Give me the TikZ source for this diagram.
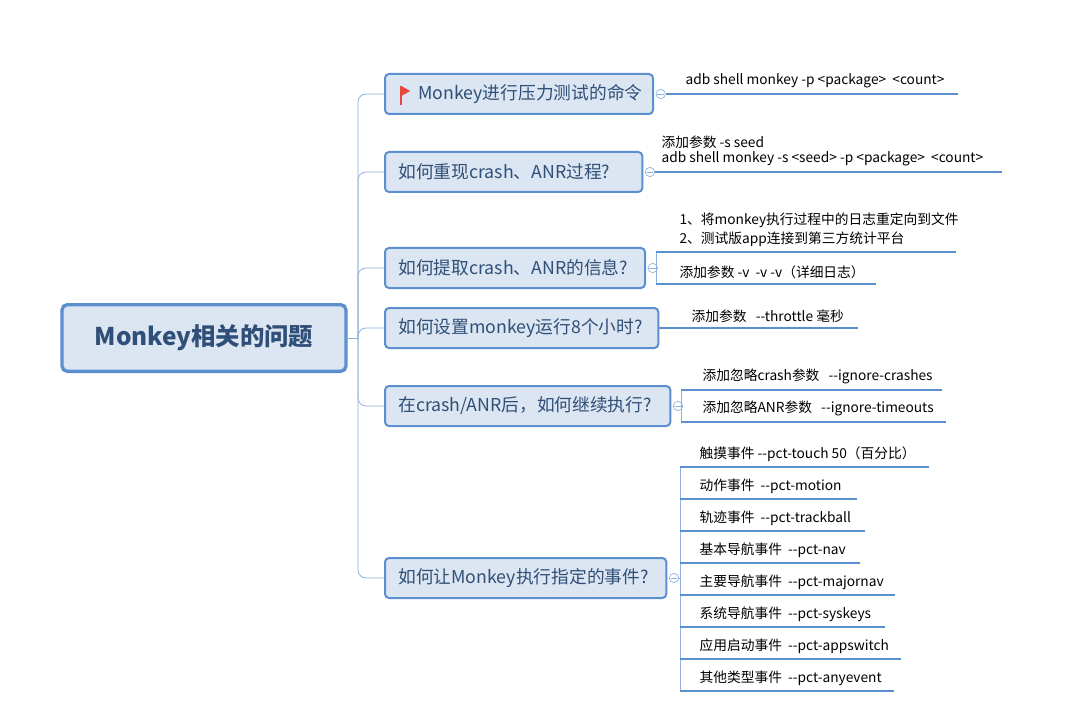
\documentclass[tikz,border=0pt]{standalone}
\usepackage{fontspec}
\setmainfont[Ligatures=TeXOff]{Noto Sans CJK SC}
\definecolor{boxfill}{HTML}{DCE6F2}
\definecolor{boxline}{HTML}{5B8FD0}
\definecolor{titletext}{HTML}{2F4F78}
\definecolor{flagred}{HTML}{E8473F}
\begin{document}
\begin{tikzpicture}[x=0.75pt, y=-0.75pt,
    topicbox/.style={draw=boxline, fill=boxfill, line width=1.5pt, rounded corners=3pt, anchor=west,
        minimum height=30pt, inner xsep=10pt, text width=#1, align=left,
        font=\fontsize{13.3}{15}\selectfont, text=titletext},
    rootbox/.style={draw=boxline, fill=boxfill, line width=2.5pt, rounded corners=4pt,
        minimum width=213pt, minimum height=50pt, font=\fontsize{18.3}{20}\selectfont\bfseries, text=titletext},
    leaf/.style={anchor=south west, inner sep=1pt, font=\fontsize{10.3}{12}\selectfont},
    uline/.style={draw=boxline, line width=2pt},
    trunk/.style={draw=boxline!70, line width=0.6pt, rounded corners=6pt},
    fold/.style={circle, draw=boxline!70, fill=white, line width=0.5pt, inner sep=0pt, minimum size=7pt}]

    \useasboundingbox (0,0) rectangle (1068,713);

    \node[rootbox] (root) at (204,338) {Monkey相关的问题};

    \node[topicbox=181pt] (cmd) at (384,94) {\mbox{\hspace{15pt}Monkey进行压力测试的命令}};
    \fill[flagred] ([xshift=13pt,yshift=6pt]cmd.west) -- ++(9,5) -- ++(-9,5) -- cycle;
    \draw[flagred, line width=1.3pt] ([xshift=13pt,yshift=6pt]cmd.west) -- ([xshift=13pt,yshift=-8pt]cmd.west);
    \node[topicbox=173pt] (redo) at (384,172) {如何重现crash、ANR过程?};
    \node[topicbox=175pt] (info) at (384,268) {如何提取crash、ANR的信息?};
    \node[topicbox=185pt] (hours) at (384,328) {如何设置monkey运行8个小时?};
    \node[topicbox=194pt] (goon) at (384,406) {在crash/ANR后，如何继续执行?};
    \node[topicbox=191pt] (events) at (384,578) {如何让Monkey执行指定的事件?};

    % trunk from root to every topic
    \draw[trunk] (root.east) -- (358,338);
    \foreach \t in {cmd,redo,info,hours,goon,events}
        \draw[trunk] (358,338) |- (\t.west);

    % leaves of the first topics
    \node[fold] (f1) at ([xshift=5pt]cmd.east) {};
    \draw[boxline!70, line width=0.5pt] ([xshift=-2.5pt]f1.center) -- ([xshift=2.5pt]f1.center);
    \coordinate (l1) at (958,94);
    \draw[uline] (f1.east) -- (l1);
    \node[leaf] (t1) at (684,90) {adb shell monkey -p <package>\ \ <count>};

    \node[fold] (f2) at ([xshift=5pt]redo.east) {};
    \draw[boxline!70, line width=0.5pt] ([xshift=-2.5pt]f2.center) -- ([xshift=2.5pt]f2.center);
    \coordinate (l2) at (1002,172);
    \draw[uline] (f2.east) -- (l2);
    \node[leaf] (t2) at (660,168) {adb shell monkey -s <seed>\ -p <package>\ \ <count>};
    \node[leaf] (t2a) at (660,150) {添加参数 -s seed};

    \node[fold] (f3) at ([xshift=5pt]info.east) {};
    \draw[boxline!70, line width=0.5pt] ([xshift=-2.5pt]f3.center) -- ([xshift=2.5pt]f3.center);
    \coordinate (b3) at (656,268);
    \draw[trunk, rounded corners=0pt] (f3.east) -- (b3);
    \draw[trunk, rounded corners=0pt] (656,252) -- (656,284);
    \draw[uline] (656,252) -- (956,252);
    \draw[uline] (656,284) -- (876,284);
    \node[leaf] (t3a) at (678,229) {1、将monkey执行过程中的日志重定向到文件};
    \node[leaf] (t3b) at (678,248) {2、测试版app连接到第三方统计平台};
    \node[leaf] (t3c) at (678,280) {添加参数 -v\ \ -v -v（详细日志）};

    \draw[uline] (hours.east) -- (858,328);
    \node[leaf] (t4) at (690,324) {添加参数\ \ \ --throttle 毫秒};

    \node[fold] (f5) at ([xshift=5pt]goon.east) {};
    \draw[boxline!70, line width=0.5pt] ([xshift=-2.5pt]f5.center) -- ([xshift=2.5pt]f5.center);
    \draw[trunk, rounded corners=0pt] (f5.east) -- (681,406);
    \draw[trunk, rounded corners=0pt] (681,390) -- (681,422);
    \draw[uline] (681,390) -- (942,390);
    \draw[uline] (681,422) -- (946,422);
    \node[leaf] (t5a) at (701,386) {添加忽略crash参数\ \ \ --ignore-crashes};
    \node[leaf] (t5b) at (701,418) {添加忽略ANR参数\ \ \ --ignore-timeouts};

    % event leaves
    \node[fold] (f6) at ([xshift=5pt]events.east) {};
    \draw[boxline!70, line width=0.5pt] ([xshift=-2.5pt]f6.center) -- ([xshift=2.5pt]f6.center);
    \draw[trunk, rounded corners=0pt] (f6.east) -- (680,578);
    \draw[trunk, rounded corners=0pt] (680,467) -- (680,691);
    \foreach \txt/\e [count=\i from 0] in {触摸事件 --pct-touch 50（百分比）/929,
        动作事件\ \ --pct-motion/857, 轨迹事件\ \ --pct-trackball/865,
        基本导航事件\ \ --pct-nav/860, 主要导航事件\ \ --pct-majornav/895,
        系统导航事件\ \ --pct-syskeys/885, 应用启动事件\ \ --pct-appswitch/901,
        其他类型事件\ \ --pct-anyevent/894}{
        \draw[uline] (680,467+32*\i) -- (\e,467+32*\i);
        \node[leaf] (ev\i) at (698,463+32*\i) {\txt};
    }

\end{tikzpicture}
\end{document}
